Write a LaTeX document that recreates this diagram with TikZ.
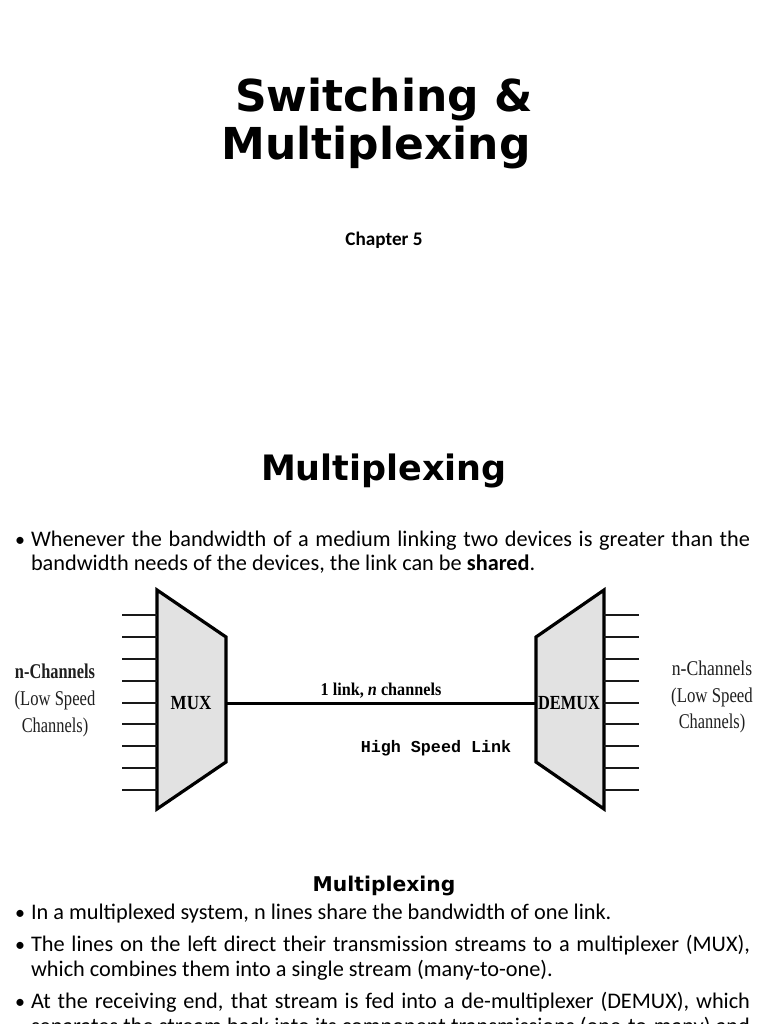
\documentclass[tikz,border=0pt]{standalone}
\usepackage{fontspec}
\setmainfont{Carlito}
\newfontfamily\dejavu{DejaVu Sans}
\newfontfamily\libserif{Liberation Serif}
\newfontfamily\libmono{Liberation Mono}
\definecolor{muxgrey}{HTML}{E2E2E2}
\tikzset{
  anchorleft/.style={anchor=base west,inner sep=0pt,outer sep=0pt},
  anchormid/.style={anchor=base,inner sep=0pt,outer sep=0pt},
  titletext/.style={anchormid,font=\dejavu\bfseries\fontsize{44}{50}\selectfont},
  headtext/.style={anchormid,font=\dejavu\bfseries\fontsize{35}{40}\selectfont},
  subhead/.style={anchormid,font=\dejavu\bfseries\fontsize{20.3}{24}\selectfont},
  chaptertext/.style={anchormid,font=\bfseries\fontsize{19.2}{22}\selectfont},
  bodytext/.style={anchorleft,font=\fontsize{22.3}{28}\selectfont},
  bullettext/.style={anchormid,font=\fontsize{20}{28}\selectfont},
  sidetext/.style={anchormid,text=black!88,font=\libserif\fontsize{21}{24}\selectfont},
  blockshape/.style={draw=black,fill=muxgrey,line width=3.2pt,line join=miter},
  chanline/.style={draw=black!90,line width=2pt},
  linkline/.style={draw=black,line width=3pt},
}
\newcommand{\fullline}[1]{\makebox[719pt][s]{#1}}
\begin{document}
\begin{tikzpicture}[x=1pt,y=-1pt]
\useasboundingbox (0,0) rectangle (768,1024);
\clip (0,0) rectangle (768,1024);
\fill[white] (0,0) rectangle (768,1024);

% Titles
\node[titletext] (t1) at (384,112) {Switching \&};
\node[titletext] (t2) at (376,160) {Multiplexing};
\node[chaptertext] (ch) at (384,245) {Chapter 5};
\node[headtext] (t3) at (384,480) {Multiplexing};

% First bullet
\node[bullettext] (b1) at (20,546) {•};
\node[bodytext] (l1) at (31,546) {\fullline{Whenever the bandwidth of a medium linking two devices is greater than the}};
\node[bodytext] (l2) at (31,570) {bandwidth needs of the devices, the link can be \textbf{shared}.};

% Diagram blocks
\path[blockshape] (157,590) -- (226,637) -- (226,762) -- (157,809) -- cycle;
\path[blockshape] (604,590) -- (536,637) -- (536,762) -- (604,809) -- cycle;
\coordinate (muxE) at (226,703);
\coordinate (demuxW) at (536,703);
\draw[linkline] (muxE) -- (demuxW);

\foreach \n/\y in {1/615,2/637,3/659,4/681,5/703,6/724,7/746,8/768,9/790}{
  \coordinate (li\n) at (122,\y);
  \coordinate (lj\n) at (157,\y);
  \coordinate (ri\n) at (604,\y);
  \coordinate (rj\n) at (639,\y);
  \draw[chanline] (li\n) -- (lj\n);
  \draw[chanline] (ri\n) -- (rj\n);
}

\node[anchormid,font=\libserif\bfseries\fontsize{20}{24}\selectfont,xscale=.85] (mux) at (191,709) {MUX};
\node[anchormid,font=\libserif\bfseries\fontsize{20}{24}\selectfont,xscale=.82] (demux) at (569,709) {DEMUX};
\node[anchormid,font=\libserif\bfseries\fontsize{18}{22}\selectfont,xscale=.9] (lnk) at (381,695) {1 link, \textit{n} channels};
\node[anchormid,font=\libmono\bfseries\fontsize{16.7}{22}\selectfont] (hs) at (436,752) {High Speed Link};

\node[sidetext,xscale=.78] (la) at (55,678) {\textbf{n-Channels}};
\node[sidetext,xscale=.79] (lb) at (55,705) {(Low Speed};
\node[sidetext,xscale=.78] (lc) at (55,732) {Channels)};
\node[sidetext,xscale=.84] (ra) at (712,675) {n-Channels};
\node[sidetext,xscale=.8] (rb) at (712,702) {(Low Speed};
\node[sidetext,xscale=.78] (rc) at (712,728) {Channels)};

% Lower text
\node[subhead] (s1) at (384,891) {Multiplexing};
\node[bullettext] (b2) at (20,919) {•};
\node[bodytext] (l3) at (31,919) {In a multiplexed system, n lines share the bandwidth of one link.};
\node[bullettext] (b3) at (20,951) {•};
\node[bodytext] (l4) at (31,951) {\fullline{The lines on the left direct their transmission streams to a multiplexer (MUX),}};
\node[bodytext] (l5) at (31,976) {which combines them into a single stream (many-to-one).};
\node[bullettext] (b4) at (20,1008) {•};
\node[bodytext] (l6) at (31,1008) {\fullline{At the receiving end, that stream is fed into a de-multiplexer (DEMUX), which}};
\node[bodytext] (l7) at (31,1033) {\fullline{separates the stream back into its component transmissions (one-to-many) and}};
\end{tikzpicture}
\end{document}
